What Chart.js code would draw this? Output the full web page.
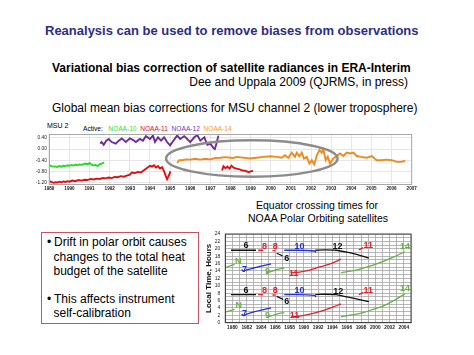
<!DOCTYPE html>
<html><head><meta charset="utf-8">
<script src="https://cdn.jsdelivr.net/npm/chart.js@4.4.0/dist/chart.umd.min.js"></script>
<style>
html,body{margin:0;padding:0;background:#fff;width:474px;height:355px;overflow:hidden;font-family:"Liberation Sans",Arial,sans-serif;}
.t{position:absolute;white-space:nowrap;line-height:1;color:#000;}
canvas{position:absolute;}
#box{position:absolute;left:41px;top:232px;width:156px;height:90px;border:1.5px solid #cc5064;}
</style></head><body>
<div class="t" style="left:45px;top:23.5px;font-size:13px;font-weight:bold;color:#2d2d87">Reanalysis can be used to remove biases from observations</div>
<div class="t" style="left:52px;top:62px;font-size:12px;font-weight:bold">Variational bias correction of satellite radiances in ERA-Interim</div>
<div class="t" style="right:66px;top:76px;font-size:12px">Dee and Uppala 2009 (QJRMS, in press)</div>
<div class="t" style="left:52px;top:102px;font-size:12px">Global mean bias corrections for MSU channel 2 (lower troposphere)</div>
<div class="t" style="left:47px;top:122px;font-size:7px">MSU 2</div>
<div class="t" style="left:83px;top:125.7px;font-size:6.6px"><span>Active:</span>&nbsp;&nbsp;&nbsp;<span style="color:#33dd33">NOAA-10</span>&nbsp;&nbsp;<span style="color:#dd1111">NOAA-11</span>&nbsp;&nbsp;<span style="color:#7733aa">NOAA-12</span>&nbsp;&nbsp;<span style="color:#ff9922">NOAA-14</span></div>
<div class="t" style="left:217px;width:200px;text-align:center;top:199.7px;font-size:10.5px">Equator crossing times for</div>
<div class="t" style="left:218px;width:200px;text-align:center;top:213px;font-size:10.5px">NOAA Polar Orbiting satellites</div>
<div id="box"></div>
<div class="t" style="left:47px;top:236.3px;font-size:12px">•</div>
<div class="t" style="left:54px;top:236.3px;font-size:12px">Drift in polar orbit causes</div>
<div class="t" style="left:53.5px;top:251.3px;font-size:12px">changes to the total heat</div>
<div class="t" style="left:53.5px;top:265px;font-size:12px">budget of the satellite</div>
<div class="t" style="left:47px;top:293px;font-size:12px">•</div>
<div class="t" style="left:54px;top:293px;font-size:12px">This affects instrument</div>
<div class="t" style="left:53.5px;top:307.3px;font-size:12px">self-calibration</div>

<canvas id="top" width="474" height="80" style="left:0;top:120px;width:474px;height:80px"></canvas>
<canvas id="eq" width="230" height="110" style="left:196px;top:226px;width:230px;height:110px"></canvas>

<script>
// ---------- Top chart data: MSU channel 2 bias corrections (K) ----------
const topYearTicks = [1989,1990,1991,1992,1993,1994,1995,1996,1997,1998,1999,2000,2001,2002,2003,2004,2005,2006,2007];
const topBiasTicks = [-1.2,-1.0,-0.8,-0.6,-0.4,-0.2,0.0,0.2,0.4];
const noaa10 = [[1989.00,-0.58],[1989.10,-0.61],[1989.20,-0.63],[1989.30,-0.62],[1989.40,-0.64],[1989.50,-0.61],[1989.60,-0.63],[1989.70,-0.60],[1989.80,-0.61],[1989.90,-0.58],[1990.00,-0.60],[1990.10,-0.57],[1990.20,-0.59],[1990.30,-0.56],[1990.40,-0.58],[1990.50,-0.55],[1990.60,-0.57],[1990.70,-0.54],[1990.80,-0.52],[1990.90,-0.55],[1991.00,-0.50],[1991.10,-0.56],[1991.20,-0.59],[1991.30,-0.57],[1991.40,-0.61],[1991.50,-0.55],[1991.60,-0.52],[1991.72,-0.48]];
const noaa11a = [[1989.00,-1.15],[1989.10,-1.18],[1989.20,-1.21],[1989.30,-1.19],[1989.40,-1.20],[1989.50,-1.17],[1989.60,-1.19],[1989.70,-1.16],[1989.80,-1.18],[1989.90,-1.15],[1990.00,-1.17],[1990.15,-1.13],[1990.30,-1.15],[1990.45,-1.11],[1990.60,-1.13],[1990.75,-1.10],[1990.90,-1.11],[1991.05,-1.07],[1991.20,-1.09],[1991.35,-1.06],[1991.50,-1.07],[1991.65,-1.04],[1991.80,-1.05],[1991.95,-1.02],[1992.10,-1.04],[1992.25,-1.00],[1992.40,-1.01],[1992.55,-0.97],[1992.70,-0.99],[1992.85,-0.95],[1993.00,-0.92],[1993.10,-0.84],[1993.25,-0.86],[1993.40,-0.82],[1993.55,-0.84],[1993.70,-0.76],[1993.85,-0.68],[1994.00,-0.60],[1994.10,-0.63],[1994.20,-0.58],[1994.30,-0.66],[1994.40,-0.61],[1994.50,-0.70],[1994.60,-0.65],[1994.70,-0.80],[1994.78,-0.95],[1994.85,-1.08],[1994.92,-0.98],[1995.02,-0.80]];
const noaa11b = [[1997.58,-0.77],[1997.65,-0.62],[1997.75,-0.69],[1997.85,-0.63],[1997.95,-0.70],[1998.05,-0.60],[1998.15,-0.67],[1998.30,-0.70],[1998.45,-0.73],[1998.60,-0.77],[1998.75,-0.78],[1998.90,-0.83],[1999.00,-0.80],[1999.12,-0.78]];
const noaa12 = [[1991.53,0.19],[1991.60,0.25],[1991.70,0.15],[1991.83,0.30],[1991.95,0.36],[1992.10,0.25],[1992.30,0.19],[1992.45,0.30],[1992.60,0.38],[1992.80,0.25],[1993.00,0.38],[1993.15,0.33],[1993.30,0.25],[1993.50,0.36],[1993.65,0.30],[1993.80,0.46],[1994.00,0.36],[1994.15,0.48],[1994.25,0.25],[1994.40,0.42],[1994.55,0.30],[1994.70,0.42],[1994.85,0.25],[1995.00,0.13],[1995.20,0.33],[1995.35,0.48],[1995.50,0.36],[1995.70,0.46],[1995.85,0.36],[1996.00,0.25],[1996.20,0.42],[1996.35,0.50],[1996.50,0.30],[1996.70,0.42],[1996.85,0.15],[1997.00,0.19],[1997.15,0.04],[1997.22,0.00],[1997.30,0.19],[1997.40,0.48]];
const noaa14 = [[1995.35,-0.50],[1995.45,-0.40],[1995.60,-0.40],[1995.80,-0.37],[1996.00,-0.38],[1996.25,-0.35],[1996.50,-0.38],[1996.75,-0.35],[1997.00,-0.37],[1997.25,-0.32],[1997.50,-0.31],[1997.75,-0.29],[1998.00,-0.31],[1998.14,-0.32],[1998.31,-0.28],[1998.97,-0.34],[1999.30,-0.31],[1999.63,-0.28],[1999.96,-0.26],[2000.30,-0.28],[2000.55,-0.31],[2000.70,-0.22],[2000.87,-0.32],[2001.04,-0.13],[2001.20,-0.28],[2001.29,-0.13],[2001.42,-0.26],[2001.54,-0.13],[2001.65,-0.34],[2001.79,-0.28],[2001.92,-0.52],[2002.04,-0.40],[2002.16,-0.55],[2002.29,-0.22],[2002.42,-0.04],[2002.53,-0.13],[2002.61,-0.02],[2002.73,-0.40],[2002.83,-0.28],[2002.94,-0.52],[2003.11,-0.34],[2003.28,-0.25],[2003.44,-0.16],[2003.61,-0.25],[2003.77,-0.13],[2003.94,-0.16],[2004.10,-0.13],[2004.27,-0.25],[2004.47,-0.28],[2004.77,-0.31],[2005.02,-0.25],[2005.26,-0.40],[2005.51,-0.40],[2005.76,-0.38],[2006.01,-0.40],[2006.26,-0.46],[2006.46,-0.46],[2006.67,-0.43]];
// highlight ellipse (data units)
const ellipseCenter = [1999.06, -0.34];
const ellipseRadius = [4.26, 0.65];

// ---------- Equator crossing chart data (year, local time hours) ----------
const eqYearLabels = [1980,1982,1984,1986,1988,1990,1992,1994,1996,1998,2000,2002,2004];
const eqHourLabels = [0,2,4,6,8,10,12,14,16,18,20,22,24];
const satN_up  = [[1979.1,15.0],[1980.3,15.8]];
const satN_lo  = [[1979.1,2.9],[1980.3,3.6]];
const sat6_up  = [[1979.8,19.6],[1983.3,19.6]];
const sat6_lo  = [[1979.8,7.6],[1983.3,7.6]];
const sat7_up  = [[1981.3,14.4],[1981.5,13.9],[1982.0,14.3],[1983.0,14.8],[1984.0,15.3],[1985.0,15.7],[1985.4,15.9]];
const sat7_lo  = [[1981.3,2.4],[1981.5,1.9],[1982.0,2.3],[1983.0,2.9],[1984.0,3.4],[1985.0,3.8],[1985.4,4.0]];
const sat8a_up = [[1983.6,19.6],[1984.3,19.6]];
const sat8a_lo = [[1983.6,7.6],[1984.3,7.6]];
const sat8b_up = [[1985.6,19.5],[1986.0,19.5]];
const sat8b_lo = [[1985.6,7.5],[1986.0,7.5]];
const sat9_up  = [[1984.7,13.4],[1985.5,13.9],[1986.3,14.4],[1987.25,14.8]];
const sat9_lo  = [[1984.7,1.4],[1985.5,1.9],[1986.3,2.4],[1987.25,2.75]];
const sat6b_up = [[1986.2,18.8],[1987.0,18.1]];
const sat6b_lo = [[1986.2,7.1],[1987.1,6.3]];
const sat10_up = [[1987.25,19.6],[1989.0,19.6],[1991.5,19.4],[1991.7,19.0]];
const sat10_lo = [[1987.25,7.6],[1989.0,7.6],[1991.5,7.4],[1991.7,7.0]];
const sat11_up = [[1988.1,13.5],[1989.4,13.7],[1990.5,14.1],[1991.7,14.8],[1993.0,15.5],[1994.05,16.2],[1995.2,17.2]];
const sat11_lo = [[1988.2,1.6],[1989.4,1.8],[1990.5,2.2],[1991.7,2.75],[1993.0,3.5],[1994.05,4.2],[1995.2,5.1]];
const sat12_up = [[1991.6,19.6],[1993.0,19.7],[1994.5,19.6],[1996.0,19.1],[1997.5,18.4],[1999.1,17.5]];
const sat12_lo = [[1991.6,7.6],[1993.0,7.7],[1994.5,7.6],[1996.0,7.0],[1997.5,6.4],[1999.1,5.7]];
const sat11b_up = [[1997.7,19.7],[1998.3,20.3]];
const sat11b_lo = [[1997.7,7.6],[1998.3,8.2]];
const sat14_up = [[1995.2,13.5],[1996.7,14.0],[1998.3,14.8],[1999.7,15.6],[2001.1,16.6],[2002.6,17.8],[2004.15,19.2]];
const sat14_lo = [[1995.2,1.6],[1996.7,2.1],[1998.3,2.75],[1999.7,3.6],[2001.1,4.5],[2002.6,6.0],[2004.15,7.8]];
// satellite number labels: [text, year, hour, colour key]
const eqLabels = [
  ['6',1981.9,20.8,'k'],['8',1984.5,20.5,'r'],['8',1986.0,20.5,'r'],['10',1989.4,20.7,'b'],['12',1994.7,20.6,'k'],['11',1999.0,20.8,'r'],['14',2004.15,20.6,'g'],
  ['N',1980.8,16.6,'g'],['7',1981.7,14.5,'b'],['9',1984.9,13.9,'g'],['6',1987.6,17.4,'k'],['11',1988.6,13.2,'r'],
  ['6',1981.9,8.7,'k'],['8',1984.5,8.6,'r'],['8',1986.0,8.6,'r'],['10',1989.4,8.7,'b'],['12',1994.8,8.5,'k'],['11',1999.0,8.8,'r'],['14',2004.15,9.3,'g'],
  ['N',1980.9,4.6,'g'],['7',1981.7,2.5,'b'],['9',1984.9,2.0,'g'],['6',1987.6,5.6,'k'],['11',1988.7,1.9,'r']
];

const eqColors = {k:'#111111', r:'#e3202c', b:'#2230c8', g:'#66b04a'};
const FONT = '"Liberation Sans", Arial, sans-serif';
const toXY = arr => arr.map(p => ({x:p[0], y:p[1]}));

const framePlugin = {
  id:'frame',
  afterDraw(chart, args, opts){
    const {ctx, chartArea:a} = chart;
    ctx.save(); ctx.strokeStyle = opts.color; ctx.lineWidth = opts.width;
    ctx.strokeRect(a.left, a.top, a.right - a.left, a.bottom - a.top);
    ctx.restore();
  }
};
const ellipsePlugin = {
  id:'ellipse',
  afterDatasetsDraw(chart){
    const {ctx, scales:{x, y}} = chart;
    const cx = x.getPixelForValue(ellipseCenter[0]);
    const cy = y.getPixelForValue(ellipseCenter[1]);
    const rx = x.getPixelForValue(ellipseCenter[0] + ellipseRadius[0]) - cx;
    const ry = cy - y.getPixelForValue(ellipseCenter[1] + ellipseRadius[1]);
    ctx.save(); ctx.strokeStyle = '#8c8c8c'; ctx.lineWidth = 2.5;
    ctx.beginPath(); ctx.ellipse(cx, cy, rx, ry, 0, 0, Math.PI*2); ctx.stroke();
    ctx.restore();
  }
};
const labelPlugin = {
  id:'satLabels',
  afterDatasetsDraw(chart){
    const {ctx, scales:{x, y}} = chart;
    ctx.save();
    ctx.font = 'bold 9px ' + FONT;
    ctx.textAlign = 'center'; ctx.textBaseline = 'middle';
    eqLabels.forEach(l => {
      ctx.fillStyle = eqColors[l[3]];
      ctx.fillText(l[0], x.getPixelForValue(l[1]), y.getPixelForValue(l[2]));
    });
    ctx.restore();
  }
};

const lineDs = (arr, color, w) => ({data: toXY(arr), borderColor: color, borderWidth: w, pointRadius: 0, fill: false, tension: 0});

new Chart(document.getElementById('top'), {
  type: 'line',
  data: { datasets: [
    lineDs(noaa10, '#22dd22', 1.9),
    lineDs(noaa11a, '#dd1111', 1.9),
    lineDs(noaa11b, '#dd1111', 1.9),
    lineDs(noaa12, '#6c2c9c', 1.9),
    lineDs(noaa14, '#f08a1a', 1.9)
  ]},
  options: {
    responsive: false, devicePixelRatio: 1, animation: false,
    layout: { padding: {left: 0, right: 62.3, top: 14.5, bottom: 0} },
    plugins: { legend: {display: false}, tooltip: {enabled: false}, frame: {color: '#a8a8a8', width: 1} },
    scales: {
      x: { type: 'linear', min: 1989, max: 2007,
        afterFit: s => { s.height = 15.5; },
        afterBuildTicks: s => { s.ticks = topYearTicks.map(v => ({value: v})); },
        ticks: { autoSkip: false, maxRotation: 0, padding: 1, color: '#222', font: {size: 4.6, weight: 'bold', family: FONT}, callback: v => String(v) },
        grid: { color: '#e6e6e6', drawTicks: false }, border: {color: '#a8a8a8'} },
      y: { min: -1.27, max: 0.52,
        afterFit: s => { s.width = 49.3; },
        afterBuildTicks: s => { s.ticks = topBiasTicks.map(v => ({value: v})); },
        ticks: { padding: 2.5, color: '#222', font: {size: 4.8, family: FONT}, callback: v => v.toFixed(2) },
        grid: { color: '#e6e6e6', drawTicks: false }, border: {color: '#a8a8a8'} }
    }
  },
  plugins: [framePlugin, ellipsePlugin]
});

const eqDs = (arr, key) => ({data: toXY(arr), borderColor: eqColors[key], borderWidth: 1.3, pointRadius: 0, fill: false, tension: 0.4, cubicInterpolationMode: 'monotone'});

new Chart(document.getElementById('eq'), {
  type: 'line',
  data: { datasets: [
    eqDs(satN_up,'g'), eqDs(satN_lo,'g'), eqDs(sat6_up,'k'), eqDs(sat6_lo,'k'),
    eqDs(sat7_up,'b'), eqDs(sat7_lo,'b'), eqDs(sat8a_up,'r'), eqDs(sat8a_lo,'r'),
    eqDs(sat8b_up,'r'), eqDs(sat8b_lo,'r'), eqDs(sat9_up,'g'), eqDs(sat9_lo,'g'),
    eqDs(sat6b_up,'k'), eqDs(sat6b_lo,'k'), eqDs(sat10_up,'b'), eqDs(sat10_lo,'b'),
    eqDs(sat11_up,'r'), eqDs(sat11_lo,'r'), eqDs(sat12_up,'k'), eqDs(sat12_lo,'k'),
    eqDs(sat11b_up,'r'), eqDs(sat11b_lo,'r'), eqDs(sat14_up,'g'), eqDs(sat14_lo,'g')
  ]},
  options: {
    responsive: false, devicePixelRatio: 1, animation: false,
    layout: { padding: {left: 0, right: 15, top: 6, bottom: 0} },
    plugins: { legend: {display: false}, tooltip: {enabled: false}, frame: {color: '#444', width: 1} },
    scales: {
      x: { type: 'linear', min: 1979, max: 2005,
        afterFit: s => { s.height = 13.3; },
        ticks: { stepSize: 1, autoSkip: false, maxRotation: 0, padding: 2, color: '#222', font: {size: 4.8, weight: 'bold', family: FONT},
          callback: v => eqYearLabels.includes(v) ? String(v) : '' },
        grid: { color: '#a4a4a4', lineWidth: 0.8, drawTicks: false }, border: {color: '#444'} },
      y: { min: 0, max: 24,
        afterFit: s => { s.width = 29.3; },
        ticks: { stepSize: 1, autoSkip: false, padding: 5, color: '#222', font: {size: 5, family: FONT},
          callback: v => eqHourLabels.includes(v) ? String(v) : '' },
        title: { display: true, text: 'Local Time, Hours', color: '#111', font: {size: 8, weight: 'bold', family: FONT}, padding: {top: 8.2, bottom: 0} },
        grid: { color: '#a4a4a4', lineWidth: 0.8, drawTicks: false }, border: {color: '#444'} }
    }
  },
  plugins: [framePlugin, labelPlugin]
});
</script>
</body></html>
